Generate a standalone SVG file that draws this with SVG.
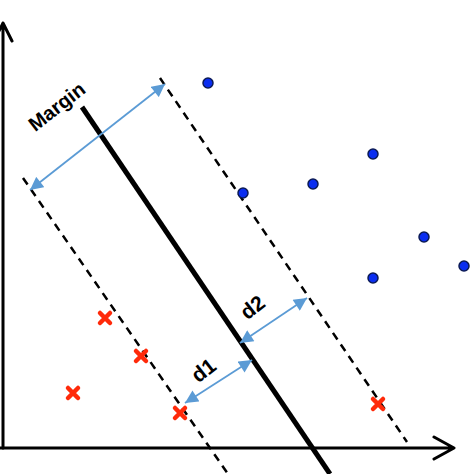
<svg xmlns="http://www.w3.org/2000/svg" width="474" height="474" viewBox="0 0 474 474">
<defs>
<style>
.axis{stroke:#000;stroke-width:3;fill:none;stroke-linecap:round;stroke-linejoin:round}
.dash{stroke:#000;stroke-width:2.5;stroke-dasharray:8 6;fill:none}
.sep{stroke:#000;stroke-width:5;fill:none}
.meas{stroke:#5B9BD5;stroke-width:1.8;fill:none;marker-start:url(#ah);marker-end:url(#ah)}
.dot{fill:#0A2DF0;stroke:#0B1A55;stroke-width:1.5}
.cross{stroke:#FF2A0A;stroke-width:4.5;stroke-linecap:round}
.lbl{font-family:"Liberation Sans",Arial,sans-serif;font-weight:bold;fill:#000;text-anchor:middle}
</style>
<marker id="ah" viewBox="0 0 10 10" refX="10" refY="5" markerWidth="14" markerHeight="13" markerUnits="userSpaceOnUse" orient="auto-start-reverse">
<path d="M0,0 L10,5 L0,10 Z" fill="#5B9BD5"/>
</marker>
</defs>
<rect width="474" height="474" fill="#fff"/>
<g id="axes">
<path class="axis" d="M3,448 V23 M-6,41 L3,23 L12,41"/>
<path class="axis" d="M0,448 H453 M434,437 L454,448 L434,459"/>
</g>
<g id="connectors">
<line id="margin-upper" class="dash" x1="160" y1="78" x2="407" y2="442"/>
<line id="margin-lower" class="dash" x1="23" y1="178" x2="228" y2="474"/>
<line id="hyperplane" class="sep" x1="82" y1="107" x2="330" y2="474"/>
<line id="margin-arrow" class="meas" x1="30" y1="190" x2="165" y2="84"/>
<line id="d2-arrow" class="meas" x1="240" y1="343" x2="307" y2="298"/>
<line id="d1-arrow" class="meas" x1="185" y1="403" x2="252" y2="360"/>
</g>
<g id="labels">
<text class="lbl" font-size="20" transform="translate(61,112) rotate(-38)">Margin</text>
<text class="lbl" font-size="21" transform="translate(257,313) rotate(-38)">d2</text>
<text class="lbl" font-size="21" transform="translate(208,376) rotate(-38)">d1</text>
</g>
<g id="class-positive">
<circle class="dot" cx="208" cy="83" r="5"/>
<circle class="dot" cx="243" cy="193" r="5"/>
<circle class="dot" cx="313" cy="184" r="5"/>
<circle class="dot" cx="373" cy="154" r="5"/>
<circle class="dot" cx="424" cy="237" r="5"/>
<circle class="dot" cx="464" cy="266" r="5"/>
<circle class="dot" cx="373" cy="278" r="5"/>
</g>
<g id="class-negative">
<path class="cross" d="M100,313 l10,10 m0,-10 l-10,10"/>
<path class="cross" d="M136,351 l10,10 m0,-10 l-10,10"/>
<path class="cross" d="M68,388 l10,10 m0,-10 l-10,10"/>
<path class="cross" d="M175,408 l10,10 m0,-10 l-10,10"/>
<path class="cross" d="M373,399 l10,10 m0,-10 l-10,10"/>
</g>
</svg>
